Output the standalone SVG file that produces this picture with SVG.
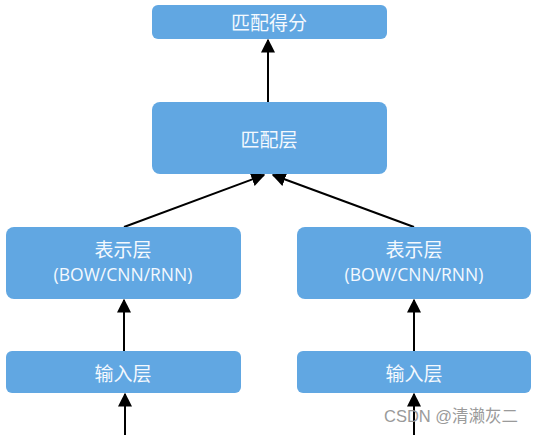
<svg xmlns="http://www.w3.org/2000/svg" width="535" height="435" viewBox="0 0 535 435">
<defs>
<style>
.box{fill:#61a7e2;}
.t{fill:#f4f9fe;font-family:"Open Sans","Noto Sans CJK SC",sans-serif;font-size:19px;text-anchor:middle;}
.l{font-size:17.5px;}
.c{stroke:#000;stroke-width:2;fill:none;marker-end:url(#ah);}
.wm{fill:#9a9a9a;font-family:"Liberation Sans","Noto Sans CJK SC",sans-serif;font-size:16.5px;}
</style>
<marker id="ah" viewBox="0 0 10 10" refX="9" refY="5" markerWidth="7" markerHeight="7" orient="auto" markerUnits="strokeWidth">
<path d="M0,0 L10,5 L0,10 z" fill="#000"/>
</marker>
</defs>
<rect width="535" height="435" fill="#fff"/>
<g id="connectors">
<line class="c" x1="268" y1="102" x2="268" y2="40"/>
<line class="c" x1="124" y1="227" x2="264" y2="175"/>
<line class="c" x1="414" y1="227" x2="273" y2="175"/>
<line class="c" x1="124" y1="351" x2="124" y2="300"/>
<line class="c" x1="414" y1="351" x2="414" y2="300"/>
<line class="c" x1="125" y1="435" x2="125" y2="394"/>
<line class="c" x1="414" y1="435" x2="414" y2="394"/>
</g>
<g id="score">
<rect class="box" x="152" y="5" width="235" height="34" rx="6"/>
<text class="t" x="269" y="30">匹配得分</text>
</g>
<g id="match">
<rect class="box" x="152" y="102" width="235" height="72" rx="8"/>
<text class="t" x="269" y="147">匹配层</text>
</g>
<g id="repr-left">
<rect class="box" x="6" y="227" width="235" height="72" rx="8"/>
<text class="t" x="123" y="257">表示层</text>
<text class="t l" x="123" y="281">(BOW/CNN/RNN)</text>
</g>
<g id="repr-right">
<rect class="box" x="297" y="227" width="234" height="72" rx="8"/>
<text class="t" x="414" y="257">表示层</text>
<text class="t l" x="414" y="281">(BOW/CNN/RNN)</text>
</g>
<g id="input-left">
<rect class="box" x="6" y="351" width="235" height="42" rx="6"/>
<text class="t" x="123" y="381">输入层</text>
</g>
<g id="input-right">
<rect class="box" x="297" y="351" width="234" height="42" rx="6"/>
<text class="t" x="414" y="381">输入层</text>
</g>
<text class="wm" x="384" y="422">CSDN @清濑灰二</text>
</svg>
